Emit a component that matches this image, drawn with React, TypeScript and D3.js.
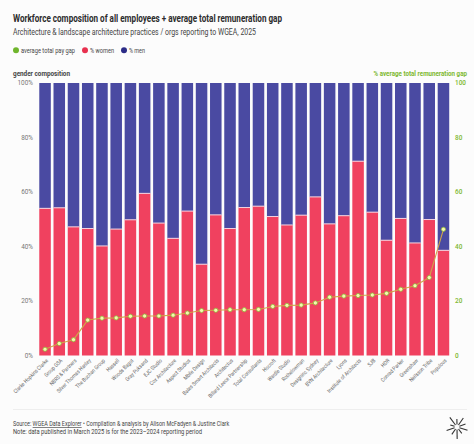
import React from "react";
import * as d3 from "d3";

const W = 474, H = 444;
const categories = ["Clarke Hopkins Clarke","Group GSA","NBRS & Partners","Silver Thomas Hanley","The Buchan Group","Hassell","Woods Bagot","Gray Puksand","EJC Studio","Cox Architecture","Aspect Studios","Mbile Design","Bates Smart Architects","Architectus","Billard Leece Partnership","Total Consultants","Hocroft","Wardle Studio","Rothelowman","Designinc Sydney","BVN Architecture","Lyons","Institute of Architects","SJB","HDR","Conrad Parker","Greenshaw","Neilsson Tribe","Populous"];
const women = [54,54.2,47.2,46.6,40.2,46.4,49.8,59.5,48.6,43,53,33.5,51.6,46.6,54.3,54.8,51,47.9,51.5,58.2,48.3,51.3,71.3,52.6,42.3,50.3,41.3,49.9,38.6];
const gap = [2.3,4.4,5.8,13,13.7,13.8,14.4,14.5,14.5,14.8,15.6,16.5,16.6,16.8,16.8,16.9,18,18.4,18.5,19.3,21.4,21.8,22,22.2,22.8,24.3,25.6,28.6,46.3];
const leftTicks = [0,20,40,60,80,100];
const rightTicks = [0,20,40,60,80,100];
const legendLabels = ["average total pay gap","% women","% men"];
const legendColors = ["#6fb52c","#e8304f","#2c2c87"];
const legendX = [16,85,124];
const legendWidths = [54,24,16];
const logoRadii = [11,8,12,9,11,7,12,8,11,9];

const PINK = "#f0415f", BLUE = "#4a4aa2", GREEN = "#7cb82f";
const FONT = "Roboto, sans-serif";
const FIT = "spacingAndGlyphs";

export default function App() {
  const x = d3.scaleBand<string>().domain(categories).range([38, 450.5]).paddingInner(0.19).paddingOuter(0.09);
  const y = d3.scaleLinear().domain([0, 100]).range([355.5, 83]);
  const cx = (i: number) => x(categories[i])! + x.bandwidth() / 2;
  const line = d3.line<number>().x((_, i) => cx(i)).y(d => y(d)).curve(d3.curveLinear);
  return (
    <svg width={W} height={H} style={{ position: "absolute", left: 0, top: 0, background: "#fcfcfc", fontFamily: FONT }}>
      <text x={13} y={21.5} fontSize={10} fontWeight={700} fill="#2b2b2b" textLength={269} lengthAdjust={FIT}>Workforce composition of all employees + average total remuneration gap</text>
      <text x={13} y={35} fontSize={8.4} fill="#444" textLength={243} lengthAdjust={FIT}>Architecture &amp; landscape architecture practices / orgs reporting to WGEA, 2025</text>
      {legendLabels.map((t, i) => (
        <g key={t}>
          <circle cx={legendX[i]} cy={50.3} r={3} fill={legendColors[i]} />
          <text x={legendX[i] + 5} y={52.7} fontSize={6.6} fill="#444" textLength={legendWidths[i]} lengthAdjust={FIT}>{t}</text>
        </g>
      ))}
      <text x={13} y={76} fontSize={7} fontWeight={700} fill="#444" textLength={57} lengthAdjust={FIT}>gender composition</text>
      <text transform="translate(467,76) scale(0.89,1)" fontSize={7} fontWeight={700} fill={GREEN} textAnchor="end">% average total remuneration gap</text>
      {leftTicks.map(t => <text key={t} x={33} y={y(t) + 2.3} fontSize={6.4} fill="#777" textAnchor="end">{t}%</text>)}
      {rightTicks.map(t => <text key={t} x={455} y={y(t) + 2.3} fontSize={6.4} fontWeight={500} fill={GREEN}>{t}</text>)}
      {categories.map((c, i) => (
        <g key={c}>
          <rect x={x(c)} y={y(100)} width={x.bandwidth()} height={y(women[i]) - y(100)} fill={BLUE} />
          <rect x={x(c)} y={y(women[i])} width={x.bandwidth()} height={y(0) - y(women[i])} fill={PINK} />
          <rect x={x(c)} y={y(women[i]) - 0.5} width={x.bandwidth()} height={1} fill="#f3d3e0" />
          <text transform={`translate(${cx(i) + 3.5},${361}) rotate(-45) scale(0.85,1)`} fontSize={5.6} fill="#666" textAnchor="end">{c}</text>
        </g>
      ))}
      <path d={line(gap)!} fill="none" stroke="#d0a548" strokeWidth={1.1} />
      {gap.map((g, i) => (
        <circle key={i} cx={cx(i)} cy={y(g)} r={2.1} fill="#f6f8b0" stroke="#8fb83a" strokeWidth={0.8} />
      ))}
      <line x1={13} x2={467} y1={409.5} y2={409.5} stroke="#eeeeee" strokeWidth={1} />
      <text transform="translate(13,426) scale(0.815,1)" fontSize={6.7} fill="#444">Source: <tspan textDecoration="underline">WGEA Data Explorer</tspan> • Compilation &amp; analysis by Alison McFadyen &amp; Justine Clark</text>
      <text x={13} y={433.5} fontSize={6.7} fill="#444" textLength={189} lengthAdjust={FIT}>Note: data published in March 2025 is for the 2023–2024 reporting period</text>
      <g stroke="#333" strokeWidth={1.1}>
        {logoRadii.map((r, i) => {
          const a = i * Math.PI / 5 + 0.3;
          return <line key={i} x1={457 + 2.5 * Math.cos(a)} y1={427 + 2.5 * Math.sin(a)} x2={457 + r * Math.cos(a)} y2={427 + r * Math.sin(a)} />;
        })}
      </g>
    </svg>
  );
}
